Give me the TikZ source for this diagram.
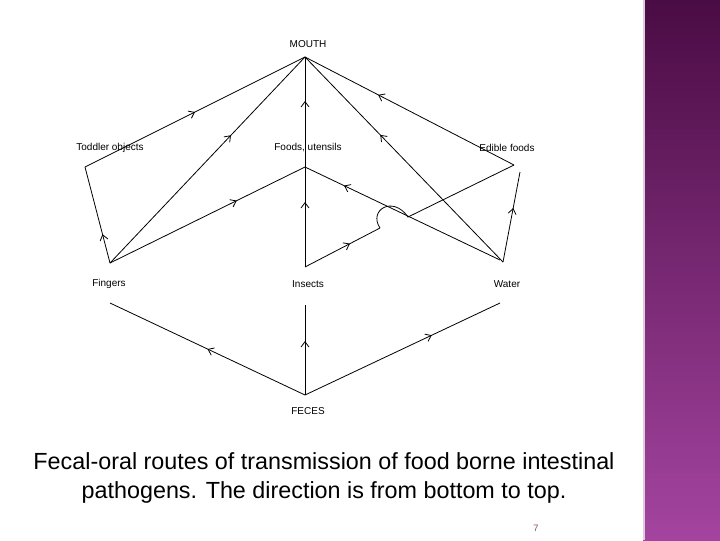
\documentclass[tikz,border=0pt]{standalone}
\usepackage{fontspec}
\setmainfont{Liberation Sans}
\usetikzlibrary{decorations.markings,arrows.meta}
\definecolor{strip}{HTML}{4A0C44}
\definecolor{stripb}{HTML}{A444A0}
\begin{document}
\begin{tikzpicture}[x=0.75pt,y=-0.75pt,
  lbl/.style={font=\fontsize{7.5}{9}\selectfont},
  flow/.style={line width=0.6pt,postaction={decorate},decoration={markings,mark=at position #1 with {\arrow{Straight Barb[length=4pt,width=6pt]}}}},
  flow/.default=0.5]
\useasboundingbox (0,0) rectangle (720,540);
\fill[white] (0,0) rectangle (720,540);
\shade[top color=strip,bottom color=stripb] (643,0) rectangle (720,540);
\draw[white!80!strip,line width=1pt] (644,0) -- (644,540);
% labels
\node[lbl] (mouthL) at (308,44) {MOUTH};
\node[lbl] (todL) at (110,148) {Toddler objects};
\node[lbl] (foodL) at (308,148) {Foods, utensils};
\node[lbl] (edL) at (507,148) {Edible foods};
\node[lbl] (finL) at (109,284) {Fingers};
\node[lbl] (insL) at (308,284) {Insects};
\node[lbl] (watL) at (507,284) {Water};
\node[lbl] (fecL) at (308,411) {FECES};
% points
\coordinate (M) at (305,57);
\coordinate (T) at (85,167);
\coordinate (Fu) at (305,167);
\coordinate (E) at (514,165);
\coordinate (E2) at (520,172);
\coordinate (Fi) at (110,263);
\coordinate (I) at (305,267);
\coordinate (W) at (503,262);
\coordinate (W2) at (500,260);
\coordinate (Ft) at (305,395);
\coordinate (FiB) at (110,303);
\coordinate (IB) at (305,305);
\coordinate (WB) at (500,303);
\coordinate (H1) at (380,228);
\coordinate (H2) at (408,217);
% connectors
\draw[flow] (T) -- (M);
\draw[flow=0.62] (Fi) -- (M);
\draw[flow=0.65] (Fi) -- (Fu);
\draw[flow=0.3] (Fi) -- (T);
\draw[flow=0.6] (Fu) -- (M);
\draw[flow=0.65] (E) -- (M);
\draw[flow=0.62] (W) -- (M);
\draw[flow=0.8] (W2) -- (Fu);
\draw[flow=0.6] (W) -- (E2);
\draw[flow=0.65] (I) -- (Fu);
\draw[flow=0.6] (I) -- (H1);
\draw[line width=0.6pt] (H1) .. controls (368,210) and (393,195) .. (H2) -- (E);
\draw[flow] (Ft) -- (FiB);
\draw[flow=0.6] (Ft) -- (IB);
\draw[flow=0.65] (Ft) -- (WB);
% caption
\node[font=\fontsize{17.5}{22}\selectfont,align=center] (cap) at (324,478) {Fecal-oral routes of transmission of food borne intestinal\\pathogens. The direction is from bottom to top.};
\node[font=\fontsize{7}{8}\selectfont,text=strip!70] (pg) at (536,528) {7};
\end{tikzpicture}
\end{document}
